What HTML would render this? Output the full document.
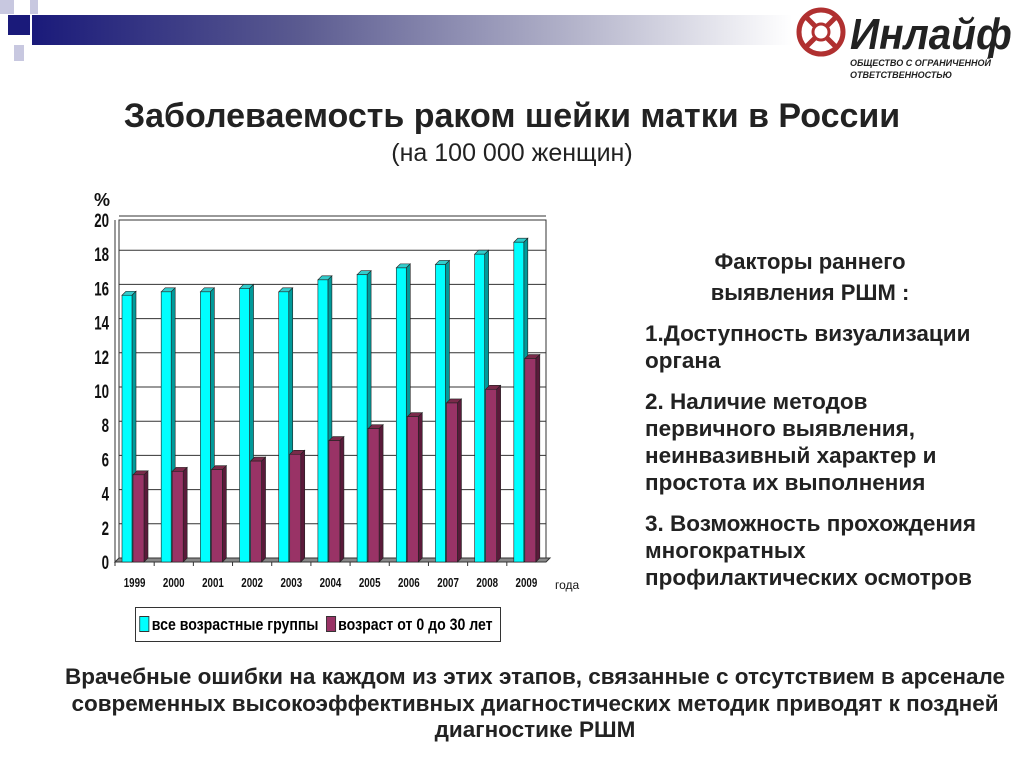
<!DOCTYPE html>
<html><head><meta charset="utf-8"><style>
body{margin:0;width:1024px;height:768px;background:#fff;font-family:"Liberation Sans","Noto Sans CJK SC",sans-serif;position:relative;overflow:hidden}
.abs{position:absolute}
</style></head><body>
<div class="abs" style="left:32px;top:15px;width:760px;height:30px;background:linear-gradient(90deg,#1a1a7a,#5a5a90 35%,#b0b0c8 70%,#fff)"></div>
<div class="abs" style="left:8px;top:15px;width:22px;height:20px;background:#1a1a7a"></div>
<div class="abs" style="left:0;top:0;width:14px;height:14px;background:#c8c8e0"></div>
<div class="abs" style="left:30px;top:0;width:8px;height:14px;background:#c8c8e0"></div>
<div class="abs" style="left:14px;top:45px;width:10px;height:16px;background:#c8c8e0"></div>
<div class="abs" style="left:850px;top:10px;font-size:44px;font-weight:bold;font-style:italic;color:#222;transform:scaleX(0.92);transform-origin:left">Инлайф</div>
<div class="abs" style="left:850px;top:57px;font-size:9px;font-weight:bold;font-style:italic;color:#222;line-height:12px">ОБЩЕСТВО С ОГРАНИЧЕННОЙ<br>ОТВЕТСТВЕННОСТЬЮ</div>
<svg class="abs" style="left:795px;top:6px" width="52" height="52"><circle cx="26" cy="26" r="22" fill="none" stroke="#b03030" stroke-width="5"/><path d="M10 10L42 42M42 10L10 42" stroke="#b03030" stroke-width="5"/><circle cx="26" cy="26" r="8" fill="#fff" stroke="#b03030" stroke-width="3"/></svg>
<div class="abs" style="left:0;width:1024px;top:97px;text-align:center;font-size:34px;font-weight:bold;color:#222">Заболеваемость раком шейки матки в России</div>
<div class="abs" style="left:0;width:1024px;top:139px;text-align:center;font-size:25px;color:#222">(на 100 000 женщин)</div>
<svg class="abs" style="left:0;top:0" width="1024" height="768" id="chart"></svg>
<div class="abs" style="left:135px;top:607px;width:364px;height:33px;border:1px solid #333;background:#fff;font-size:17px;font-weight:bold;line-height:33px;white-space:nowrap;overflow:hidden">
<div style="transform:scaleX(0.83);transform-origin:left;width:440px">
<span><span style="display:inline-block;width:10px;height:14px;background:#00ffff;border:1px solid #333;margin:0 3px 0 4px;vertical-align:-2px"></span>все возрастные группы</span>
<span><span style="display:inline-block;width:10px;height:14px;background:#993366;border:1px solid #333;margin:0 3px 0 4px;vertical-align:-2px"></span>возраст от 0 до 30 лет</span></div></div>
<div class="abs" style="left:640px;width:340px;top:246px;text-align:center;font-size:22px;font-weight:bold;color:#222;line-height:31px">Факторы раннего<br>выявления РШМ :</div>
<div class="abs" style="left:645px;top:320px;width:345px;font-size:22.5px;font-weight:bold;color:#222;line-height:27px">
<div style="margin-bottom:14px">1.Доступность визуализации органа</div>
<div style="margin-bottom:14px">2. Наличие методов первичного выявления, неинвазивный характер и простота их выполнения</div>
<div>3. Возможность прохождения многократных профилактических осмотров</div></div>
<div class="abs" style="left:40px;width:990px;top:664px;text-align:center;font-size:22.5px;font-weight:bold;color:#222;line-height:26.5px">Врачебные ошибки на каждом из этих этапов, связанные с отсутствием в арсенале современных высокоэффективных диагностических методик  приводят к поздней диагностике РШМ</div>
<script>
const years=["1999","2000","2001","2002","2003","2004","2005","2006","2007","2008","2009"];
const allAges=[15.6,15.8,15.8,16.0,15.8,16.5,16.8,17.2,17.4,18.0,18.7];
const young=[5.1,5.3,5.4,5.9,6.3,7.1,7.8,8.5,9.3,10.1,11.9];
const yTicks=[0,2,4,6,8,10,12,14,16,18,20];
const svg=document.getElementById('chart');
const NS='http://www.w3.org/2000/svg';
const x0=115,x1=546,yb=562,yt=220,d=4;
const y=v=>yb-(v/20)*(yb-yt);
const cw=(x1-x0)/years.length;
function el(t,a){const e=document.createElementNS(NS,t);for(const k in a)e.setAttribute(k,a[k]);svg.appendChild(e);return e;}
const back=el('rect',{x:x0+d,y:yt-d+4,width:x1-x0-d,height:yb-yt-4,fill:'#fff',stroke:'#333'});

yTicks.forEach(t=>{
 const g=el('line',{x1:x0+d,x2:x1,y1:y(t)-d,y2:y(t)-d,stroke:'#333','stroke-width':1});
 
 const l=el('text',{x:x0-6,y:y(t)+7,'text-anchor':'end','font-size':19,'font-weight':'bold',fill:'#111',transform:`translate(${x0-6},0) scale(0.7,1) translate(${-(x0-6)},0)`});
 l.textContent=t;
});
el('polygon',{points:`${x0},${yb} ${x0+d},${yb-d} ${x1+d},${yb-d} ${x1},${yb}`,fill:'#888',stroke:'#333'});
el('line',{x1:x0,x2:x0,y1:yt,y2:yb,stroke:'#333'});
el('line',{x1:x0,x2:x1,y1:yb,y2:yb,stroke:'#333'});
function bar(xl,w,v,c,side,top,name){
 const yy=y(v);
 el('polygon',{points:`${xl},${yy} ${xl+d},${yy-d} ${xl+w+d},${yy-d} ${xl+w},${yy}`,fill:top,stroke:'#222','stroke-width':0.6});
 el('polygon',{points:`${xl+w},${yy} ${xl+w+d},${yy-d} ${xl+w+d},${yb-d} ${xl+w},${yb}`,fill:side,stroke:'#222','stroke-width':0.6});
 const r=el('rect',{x:xl,y:yy,width:w,height:yb-yy,fill:c,stroke:'#222','stroke-width':0.6});
 
}
years.forEach((yr,i)=>{
 const cx=x0+cw*i;
 bar(cx+7,10,allAges[i],'#00ffff','#009a9a','#33cccc','bar-all-ages');
 bar(cx+18,11,young[i],'#993366','#5a1a3a','#7a2a4a','bar-young');
 el('line',{x1:cx,x2:cx,y1:yb,y2:yb+4,stroke:'#333'});
 const t=el('text',{x:cx+cw/2,y:yb+25,'text-anchor':'middle','font-size':13,'font-weight':'bold',fill:'#111',transform:`translate(${cx+cw/2},0) scale(0.75,1) translate(${-(cx+cw/2)},0)`});
 t.textContent=yr;
});
const pu=el('text',{x:94,y:206,'font-size':18,'font-weight':'bold',fill:'#111'});pu.textContent='%';

const xt=el('text',{x:555,y:589,'font-size':12,fill:'#111'});xt.textContent='года';

</script>
</body></html>
